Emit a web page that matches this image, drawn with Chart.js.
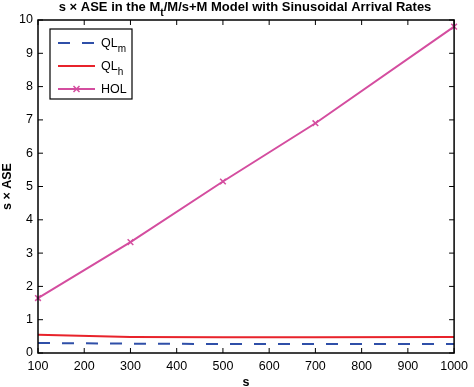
<!DOCTYPE html>
<html>
<head>
<meta charset="utf-8">
<script src="https://cdn.jsdelivr.net/npm/chart.js@4"></script>
<style>
  html, body { margin: 0; padding: 0; background: #fff; }
  #wrap { width: 474px; height: 387px; position: relative; }
</style>
</head>
<body>
<div id="wrap"><canvas id="chart"></canvas></div>
<script>
// data
const sValues = [100, 300, 500, 700, 1000];
const qlmValues = [0.30, 0.28, 0.27, 0.27, 0.27];
const qlhValues = [0.55, 0.48, 0.47, 0.47, 0.48];
const holValues = [1.65, 3.33, 5.15, 6.90, 9.80];

const xTicks = [100, 200, 300, 400, 500, 600, 700, 800, 900, 1000];
const yTicks = [0, 1, 2, 3, 4, 5, 6, 7, 8, 9, 10];

const FONT = '"Liberation Sans", Arial, Helvetica, sans-serif';
const BLUE = '#2f4fa8';
const RED = '#e8232b';
const PINK = '#d44d9f';

function pairs(xs, ys) {
    return xs.map((x, i) => ({ x: x, y: ys[i] }));
}

// text with subscript parts: [[text, isSub], ...]
function drawRich(ctx, parts, x, y, size, bold, align) {
    const w = parts.reduce((sum, p) => {
        ctx.font = (bold ? 'bold ' : '') + (p[1] ? size * 0.8 : size) + 'px ' + FONT;
        return sum + ctx.measureText(p[0]).width;
    }, 0);
    let cx = align === 'center' ? x - w / 2 : x;
    ctx.textBaseline = 'alphabetic';
    ctx.textAlign = 'left';
    parts.forEach(p => {
        ctx.font = (bold ? 'bold ' : '') + (p[1] ? size * 0.8 : size) + 'px ' + FONT;
        ctx.fillText(p[0], cx, p[1] ? y + size * 0.4 : y);
        cx += ctx.measureText(p[0]).width;
    });
}

// box, inward ticks, title and legend (matlab style)
const matlabFrame = {
    id: 'matlabFrame',
    afterDraw(chart) {
        const ctx = chart.ctx;
        const a = chart.chartArea;
        const xs = chart.scales.x, ys = chart.scales.y;
        ctx.save();
        ctx.strokeStyle = '#000';
        ctx.lineWidth = 1.5;
        ctx.strokeRect(a.left, a.top, a.right - a.left, a.bottom - a.top);
        ctx.lineWidth = 1;
        ctx.beginPath();
        xTicks.forEach(v => {
            const px = xs.getPixelForValue(v);
            ctx.moveTo(px, a.bottom); ctx.lineTo(px, a.bottom - 5);
            ctx.moveTo(px, a.top); ctx.lineTo(px, a.top + 5);
        });
        yTicks.forEach(v => {
            const py = ys.getPixelForValue(v);
            ctx.moveTo(a.left, py); ctx.lineTo(a.left + 5, py);
            ctx.moveTo(a.right, py); ctx.lineTo(a.right - 5, py);
        });
        ctx.stroke();

        // title
        ctx.fillStyle = '#000';
        drawRich(ctx, [['s \u00d7 ASE in the M', false], ['t', true],
            ['/M/s+M Model with Sinusoidal Arrival Rates', false]],
            (a.left + a.right) / 2 - 1, 11, 13, true, 'center');

        // legend
        const lx = 50, ly = 29, lw = 82, lh = 70;
        ctx.fillStyle = '#fff';
        ctx.fillRect(lx, ly, lw, lh);
        ctx.strokeStyle = '#000';
        ctx.lineWidth = 1.2;
        ctx.strokeRect(lx, ly, lw, lh);
        const rows = [
            { color: BLUE, dash: [12, 12], parts: [['QL', false], ['m', true]], marker: false },
            { color: RED, dash: [], parts: [['QL', false], ['h', true]], marker: false },
            { color: PINK, dash: [], parts: [['HOL', false]], marker: true }
        ];
        rows.forEach((r, i) => {
            const y = ly + 14 + i * 23;
            ctx.strokeStyle = r.color;
            ctx.lineWidth = 2;
            ctx.setLineDash(r.dash);
            ctx.beginPath();
            ctx.moveTo(58, y); ctx.lineTo(95, y);
            ctx.stroke();
            ctx.setLineDash([]);
            if (r.marker) {
                ctx.lineWidth = 1.5;
                ctx.beginPath();
                ctx.moveTo(73.5, y - 3); ctx.lineTo(79.5, y + 3);
                ctx.moveTo(73.5, y + 3); ctx.lineTo(79.5, y - 3);
                ctx.stroke();
            }
            ctx.fillStyle = '#000';
            drawRich(ctx, r.parts, 101, y + 4, 12.5, false, 'left');
        });
        ctx.restore();
    }
};

new Chart(document.getElementById('chart'), {
    type: 'line',
    data: {
        datasets: [
            {
                label: 'QLm',
                data: pairs(sValues, qlmValues),
                borderColor: BLUE,
                borderWidth: 2,
                borderDash: [12, 12],
                pointRadius: 0,
                tension: 0
            },
            {
                label: 'QLh',
                data: pairs(sValues, qlhValues),
                borderColor: RED,
                borderWidth: 2,
                pointRadius: 0,
                tension: 0
            },
            {
                label: 'HOL',
                data: pairs(sValues, holValues),
                borderColor: PINK,
                backgroundColor: PINK,
                borderWidth: 2,
                pointStyle: 'crossRot',
                pointRadius: 4,
                pointBorderWidth: 1.5,
                clip: false,
                tension: 0
            }
        ]
    },
    options: {
        responsive: true,
        maintainAspectRatio: false,
        animation: false,
        layout: { padding: { top: 20, right: 14, left: 0, bottom: 0 } },
        plugins: {
            legend: { display: false },
            tooltip: { enabled: false }
        },
        scales: {
            x: {
                type: 'linear',
                min: 100,
                max: 1000,
                afterFit: s => { s.height = 34; },
                afterBuildTicks: s => { s.ticks = xTicks.map(v => ({ value: v })); },
                grid: { display: false, drawTicks: false },
                border: { display: false },
                ticks: { color: '#000', padding: 6, maxRotation: 0, autoSkip: false,
                         callback: v => String(v),
                         font: { family: FONT, size: 12.5 } },
                title: { display: true, text: 's', color: '#000', padding: { top: 0, bottom: -3 },
                         font: { family: FONT, size: 12.5, weight: 'bold' } }
            },
            y: {
                min: 0,
                max: 10,
                afterFit: s => { s.width = 38; },
                afterBuildTicks: s => { s.ticks = yTicks.map(v => ({ value: v })); },
                grid: { display: false, drawTicks: false },
                border: { display: false },
                ticks: { color: '#000', padding: 5, autoSkip: false,
                         callback: v => String(v),
                         font: { family: FONT, size: 12.5 } },
                title: { display: true, text: 's \u00d7 ASE', color: '#000', padding: { top: 0, bottom: 0 },
                         font: { family: FONT, size: 12.5, weight: 'bold' } }
            }
        }
    },
    plugins: [matlabFrame]
});
</script>
</body>
</html>
